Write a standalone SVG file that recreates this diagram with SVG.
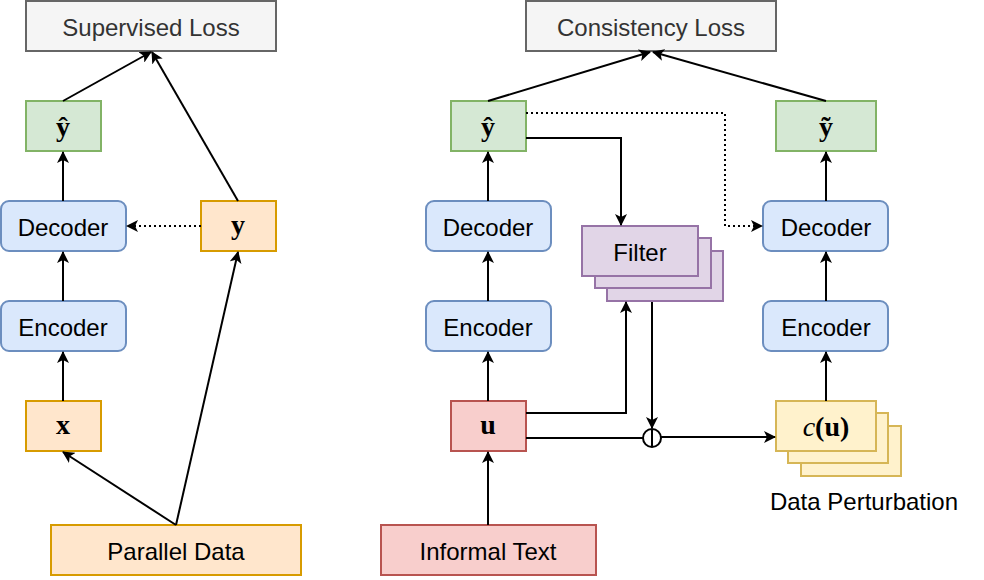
<svg xmlns="http://www.w3.org/2000/svg" width="984" height="580" viewBox="0 0 984 580">
<defs>
<marker id="ah" viewBox="0 0 12 12" refX="11" refY="6" markerWidth="12" markerHeight="12" markerUnits="userSpaceOnUse" orient="auto"><path d="M0,0 L12,6 L0,12 L3,6 Z" fill="#000"/></marker>
</defs>
<style>
text{font-family:"Liberation Sans",Arial,sans-serif;font-size:24px;fill:#000;text-anchor:middle;dominant-baseline:central}
.m{font-family:"Liberation Serif","DejaVu Serif",serif;font-weight:bold;font-size:28px}
.loss{fill:#f5f5f5;stroke:#666;stroke-width:2}
.grn{fill:#d5e8d4;stroke:#82b366;stroke-width:2}
.blu{fill:#dae8fc;stroke:#6c8ebf;stroke-width:2}
.org{fill:#ffe6cc;stroke:#d79b00;stroke-width:2}
.red{fill:#f8cecc;stroke:#b85450;stroke-width:2}
.pur{fill:#e1d5e7;stroke:#9673a6;stroke-width:2}
.yel{fill:#fff2cc;stroke:#d6b656;stroke-width:2}
.c{fill:none;stroke:#000;stroke-width:2;marker-end:url(#ah)}
.d{stroke-dasharray:2 3}
</style>
<g id="sup-loss"><rect class="loss" x="26" y="1" width="250" height="50"/><text x="151" y="27" fill="#333" style="fill:#333">Supervised Loss</text></g>
<g id="yhat1"><rect class="grn" x="26" y="101" width="75" height="50"/><text class="m" x="63" y="126">ŷ</text></g>
<g id="dec1"><rect class="blu" x="1" y="201" width="125" height="50" rx="8"/><text x="63" y="227">Decoder</text></g>
<g id="y1"><rect class="org" x="201" y="201" width="75" height="50"/><text class="m" x="238" y="224">y</text></g>
<g id="enc1"><rect class="blu" x="1" y="301" width="125" height="50" rx="8"/><text x="63" y="327">Encoder</text></g>
<g id="x1"><rect class="org" x="26" y="401" width="75" height="50"/><text class="m" x="63" y="424">x</text></g>
<g id="par"><rect class="org" x="51" y="525" width="250" height="50"/><text x="176" y="551">Parallel Data</text></g>

<g id="con-loss"><rect class="loss" x="526" y="1" width="250" height="50"/><text x="651" y="27" style="fill:#333">Consistency Loss</text></g>
<g id="yhat2"><rect class="grn" x="451" y="101" width="75" height="50"/><text class="m" x="488" y="126">ŷ</text></g>
<g id="dec2"><rect class="blu" x="426" y="201" width="125" height="50" rx="8"/><text x="488" y="227">Decoder</text></g>
<g id="enc2"><rect class="blu" x="426" y="301" width="125" height="50" rx="8"/><text x="488" y="327">Encoder</text></g>
<g id="u"><rect class="red" x="451" y="401" width="75" height="50"/><text class="m" x="488" y="424">u</text></g>
<g id="inf"><rect class="red" x="381" y="525" width="215" height="50"/><text x="488" y="551">Informal Text</text></g>
<g id="filter"><rect class="pur" x="607" y="251" width="116" height="50"/><rect class="pur" x="595" y="238" width="116" height="50"/><rect class="pur" x="582" y="226" width="116" height="50"/><text x="640" y="252">Filter</text></g>
<g id="ytil"><rect class="grn" x="776" y="101" width="100" height="50"/><text class="m" x="826" y="126">ỹ</text></g>
<g id="dec3"><rect class="blu" x="763" y="201" width="125" height="50" rx="8"/><text x="826" y="227">Decoder</text></g>
<g id="enc3"><rect class="blu" x="763" y="301" width="125" height="50" rx="8"/><text x="826" y="327">Encoder</text></g>
<g id="cu"><rect class="yel" x="801" y="426" width="100" height="50"/><rect class="yel" x="788" y="413" width="100" height="50"/><rect class="yel" x="776" y="401" width="100" height="50"/><text class="m" x="826" y="426"><tspan font-style="italic" font-weight="normal">c</tspan>(u)</text></g>
<g id="pert"><text x="864" y="501">Data Perturbation</text></g>
<g id="merge"><circle cx="652" cy="438" r="9" fill="#fff" stroke="#000" stroke-width="2"/><line x1="652" y1="429" x2="652" y2="447" stroke="#000" stroke-width="2"/></g>

<g id="connectors">
<path class="c" d="M63,101 L151,52"/>
<path class="c" d="M238,201 L152,52"/>
<path class="c" d="M63,201 L63,152"/>
<path class="c d" d="M201,226 L127,226"/>
<path class="c" d="M63,301 L63,252"/>
<path class="c" d="M63,401 L63,352"/>
<path class="c" d="M176,525 L63,452"/>
<path class="c" d="M176,525 L238,252"/>
<path class="c" d="M488,101 L650,52"/>
<path class="c" d="M826,101 L653,52"/>
<path class="c" d="M488,201 L488,152"/>
<path class="c" d="M488,301 L488,252"/>
<path class="c" d="M488,401 L488,352"/>
<path class="c" d="M488,525 L488,452"/>
<path class="c" d="M526,138 L621,138 L621,225"/>
<path class="c d" d="M526,113 L725,113 L725,226 L762,226"/>
<path class="c" d="M526,413 L626,413 L626,302"/>
<path class="c" d="M652,302 L652,428"/>
<path fill="none" stroke="#000" stroke-width="2" d="M526,438 L643,438"/>
<path class="c" d="M661,437 L775,437"/>
<path class="c" d="M826,401 L826,352"/>
<path class="c" d="M826,301 L826,252"/>
<path class="c" d="M826,201 L826,152"/>
</g>
</svg>
